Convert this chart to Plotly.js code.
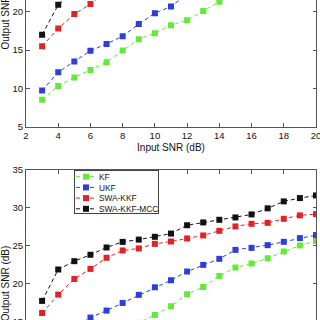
<!DOCTYPE html>
<html><head><meta charset="utf-8">
<script src="https://cdn.plot.ly/plotly-3.0.1.min.js"></script>
<style>
html,body{margin:0;padding:0;overflow:hidden;width:320px;height:320px;background:#fff}
#wrap{position:absolute;left:0;top:-120px;width:320px;height:560px}
</style>
</head><body><div id="wrap"></div>
<script>
// Input SNR (dB)
const inputSNR = [3,4,5,6,7,8,9,10,11,12,13,14,15,16,17,18,19,20];
const seriesNames = ['KF','UKF','SWA-KKF','SWA-KKF-MCC'];
const seriesColors = ['#62ea36','#2a3fdc','#e42222','#111111'];

// Upper panel (a)
const topKF     = [8.5,10.3,11.4,12.4,13.4,14.95,16.4,17.2,18.25,18.9,20.1,21.3,22.1,22.8,23.6,24.2,24.9,25.4];
const topUKF    = [9.7,12.1,13.5,14.9,15.8,16.8,18.4,19.8,20.7,22.3,22.9,23.6,24.2,24.8,25.3,25.8,26.2,26.6];
const topSWA    = [15.5,17.8,19.7,21.0,22.7,23.6,24.3,24.9,25.5,26.0,26.5,27.0,27.4,27.8,28.2,28.6,28.9,29.2];
const topSWAMCC = [17.0,20.9,22.7,23.9,24.8,25.6,26.1,26.6,27.0,27.5,27.9,28.3,28.7,29.1,29.6,30.1,30.6,31.0];

// Lower panel (b)
const botKF     = [8.6,10.1,11.0,12.0,12.9,13.9,14.8,15.84,17.0,18.58,19.54,21.0,22.11,22.64,23.34,24.23,25.03,25.6];
const botUKF    = [10.0,12.4,14.2,15.5,16.42,17.43,18.5,19.5,20.43,21.58,22.46,23.26,24.44,24.71,25.07,25.51,26.0,26.4];
const botSWA    = [16.1,18.53,20.6,21.93,23.4,24.36,24.63,25.24,25.55,25.95,26.35,26.96,27.54,27.89,28.02,28.55,29.0,29.17];
const botSWAMCC = [17.7,21.85,22.95,23.8,24.76,25.5,25.8,26.17,26.6,27.7,28.07,28.42,28.73,29.13,29.93,30.85,31.29,31.64];

const topSeries = [topKF, topUKF, topSWA, topSWAMCC];
const botSeries = [botKF, botUKF, botSWA, botSWAMCC];

const traces = [];
topSeries.forEach((ys, i) => traces.push({
  x: inputSNR, y: ys, xaxis: 'x', yaxis: 'y', type: 'scatter', mode: 'lines+markers',
  name: seriesNames[i], showlegend: false,
  line: {color: seriesColors[i], width: 1, dash: '4px,3px'},
  marker: {symbol: 'square', size: 6, color: seriesColors[i]}
}));
botSeries.forEach((ys, i) => traces.push({
  x: inputSNR, y: ys, xaxis: 'x2', yaxis: 'y2', type: 'scatter', mode: 'lines+markers',
  name: seriesNames[i], showlegend: true,
  line: {color: seriesColors[i], width: 1, dash: '4px,3px'},
  marker: {symbol: 'square', size: 6, color: seriesColors[i]}
}));

const fontFam = 'Liberation Sans, Arial, sans-serif';
function xax(anchor) {
  return {anchor: anchor, range: [2,20], dtick: 2, tick0: 2, ticks: 'inside', ticklen: 3.5,
    tickcolor: '#555', showline: true, linecolor: '#555', linewidth: 1, mirror: 'ticks',
    showgrid: false, zeroline: false, ticklabeloverflow: 'allow',
    tickfont: {size: 9.5, color: '#111', family: fontFam},
    title: {text: 'Input SNR (dB)', font: {size: 10, color: '#111', family: fontFam}, standoff: 4}};
}
function yax(dom) {
  return {domain: dom, range: [5,35], dtick: 5, tick0: 5, ticks: 'inside', ticklen: 3.5,
    tickcolor: '#555', showline: true, linecolor: '#555', linewidth: 1, mirror: 'ticks',
    showgrid: false, zeroline: false, ticklabeloverflow: 'allow',
    tickfont: {size: 9.5, color: '#111', family: fontFam},
    title: {text: 'Output SNR (dB)', font: {size: 10, color: '#111', family: fontFam}, standoff: 3}};
}

const layout = {
  width: 320, height: 560,
  margin: {l: 26, r: 4, t: 17, b: 43},
  paper_bgcolor: '#fff', plot_bgcolor: '#fff',
  xaxis: xax('y'), yaxis: yax([0.541, 1]),
  xaxis2: xax('y2'), yaxis2: yax([0, 0.454]),
  showlegend: true,
  legend: {x: 0.1655, y: 0.454, xanchor: 'left', yanchor: 'top',
    bgcolor: '#fff', bordercolor: '#444', borderwidth: 1,
    font: {size: 8.3, color: '#111', family: fontFam}, itemwidth: 30},
  hovermode: false
};

// Tighten the legend to the compact MATLAB-style spacing of the reference
function compactLegend(gd) {
  const leg = gd.querySelector('g.legend');
  if (!leg) return;
  const boxW = 85, boxH = 44, firstY = 6.7, gap = 10.7;
  leg.querySelectorAll('g.scrollbox, g.groups').forEach(g => g.setAttribute('transform', 'translate(0,0)'));
  const items = leg.querySelectorAll('g.traces');
  items.forEach((it, i) => {
    it.setAttribute('transform', 'translate(0,' + (firstY + i * gap) + ')');
    it.querySelectorAll('g.legendlines path').forEach(p => p.setAttribute('d', 'M2,0h20'));
    it.querySelectorAll('g.legendpoints path').forEach(p => p.setAttribute('transform', 'translate(12,0)'));
    const t = it.querySelector('text.legendtext');
    if (t) {
      t.setAttribute('x', 25);
      t.querySelectorAll('tspan').forEach(s => { if (s.hasAttribute('x')) s.setAttribute('x', 25); });
    }
  });
  const bg = leg.querySelector('rect.bg');
  if (bg) { bg.setAttribute('width', boxW - 1); bg.setAttribute('height', boxH - 1); }
}

const gd = document.getElementById('wrap');
Plotly.newPlot(gd, traces, layout, {staticPlot: true, displayModeBar: false}).then(() => compactLegend(gd));
</script>
</body></html>
